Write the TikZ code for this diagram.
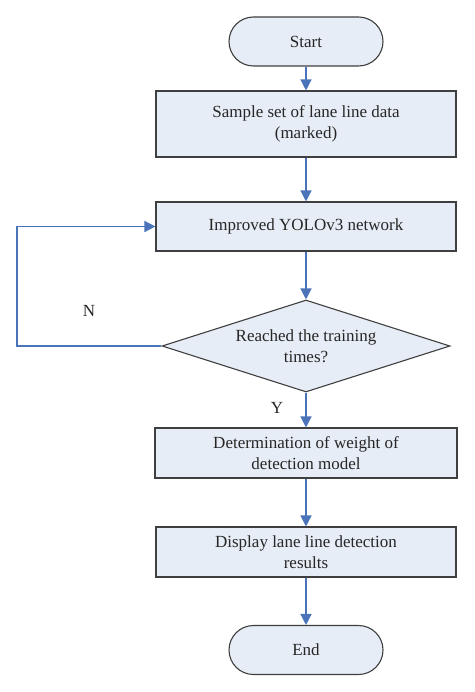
\documentclass[tikz,border=0pt]{standalone}
\usepackage{fontspec}
\setmainfont{Liberation Serif}
\usetikzlibrary{shapes.geometric,arrows.meta}
\definecolor{boxfill}{HTML}{E7EDF6}
\definecolor{boxline}{HTML}{3F3F3F}
\definecolor{arrowblue}{HTML}{4A73B9}
\begin{document}
\begin{tikzpicture}[x=1pt,y=-1pt,
  every node/.style={font=\fontsize{17}{21.5}\selectfont, text=black!85},
  proc/.style={draw=boxline, fill=boxfill, line width=1.1pt, minimum width=300pt, align=center, inner sep=0pt},
  term/.style={draw=boxline, fill=boxfill, line width=1.1pt, rounded corners=24.5pt, minimum width=154pt, minimum height=49pt, inner sep=0pt},
  deci/.style={draw=boxline, fill=boxfill, line width=1.1pt, diamond, aspect=3.13, align=center, inner sep=0pt, minimum width=288pt, minimum height=92pt},
  conn/.style={draw=arrowblue, line width=1.4pt, -{Triangle[length=11pt,width=11pt]}},
  lbl/.style={inner sep=0pt}]
\useasboundingbox (0,0) rectangle (474,692);
\node[term] (start) at (306,41.5) {Start};
\node[proc, minimum height=66pt] (sample) at (306,124) {Sample set of lane line data\\(marked)};
\node[proc, minimum height=49pt] (yolo) at (306,226.5) {Improved YOLOv3 network};
\node[deci] (dec) at (306,346) {Reached the training\\times?};
\node[proc, minimum height=50pt, minimum width=302pt] (det) at (306,453) {Determination of weight of\\detection model};
\node[proc, minimum height=50pt] (disp) at (306,552) {Display lane line detection\\results};
\node[term] (end) at (306,650) {End};
\coordinate (lb) at (17,346);
\coordinate (lt) at (17,226.5);
\node[lbl] (n) at (89,311) {N};
\node[lbl] (y) at (277,408) {Y};
\draw[conn] (start) -- (sample);
\draw[conn] (sample) -- (yolo);
\draw[conn] (yolo) -- (dec);
\draw[conn] (dec) -- (det);
\draw[conn] (det) -- (disp);
\draw[conn] (disp) -- (end);
\draw[conn] (dec.west) -- (lb) -- (lt) -- (yolo.west);
\end{tikzpicture}
\end{document}
